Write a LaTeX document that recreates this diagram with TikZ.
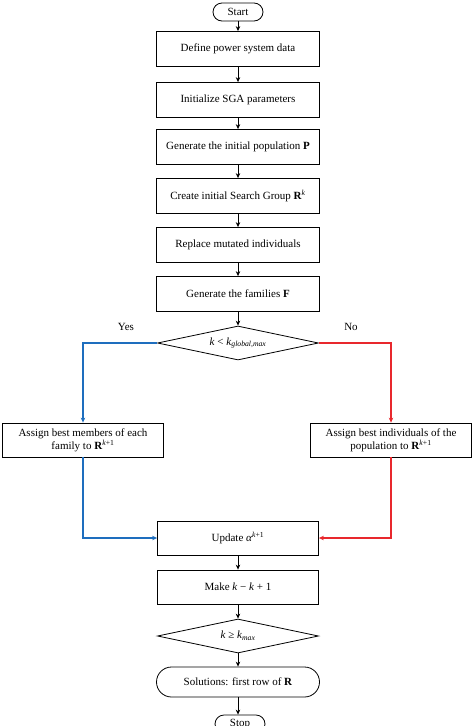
\documentclass[tikz,border=0pt]{standalone}
\usepackage{fontspec}
\setmainfont{Liberation Serif}
\usetikzlibrary{shapes.geometric,arrows.meta}
\definecolor{myblue}{RGB}{30,110,190}
\definecolor{myred}{RGB}{232,40,45}
\begin{document}
\begin{tikzpicture}[x=1pt,y=-1pt,
  font=\fontsize{11}{13}\selectfont,
  box/.style={draw,line width=0.8pt,minimum width=163pt,minimum height=35pt,inner sep=1pt,align=center},
  sidebox/.style={draw,line width=0.8pt,minimum width=161pt,minimum height=34pt,inner sep=1pt,align=center},
  term/.style={draw,line width=0.8pt,rounded corners=9pt,minimum width=50pt,minimum height=18pt,inner sep=1pt},
  bigterm/.style={draw,line width=0.8pt,rounded corners=15pt,minimum width=163pt,minimum height=30pt,inner sep=1pt},
  dec/.style={draw,line width=0.8pt,diamond,aspect=4.7,minimum width=161pt,minimum height=34pt,inner sep=0pt},
  arr/.style={line width=0.8pt,-{Stealth[length=5pt,width=4.5pt]}},
  barr/.style={line width=1.2pt,myblue,-{Stealth[length=5pt,width=4.5pt]}},
  rarr/.style={line width=1.2pt,myred,-{Stealth[length=5pt,width=4.5pt]}}]
\useasboundingbox (0,0) rectangle (474,726);
\node[term] (start) at (238,12) {Start};
\node[box] (def) at (238,49) {Define power system data};
\node[box] (init) at (238,100) {Initialize SGA parameters};
\node[box] (genp) at (238,147) {Generate the initial population \textbf{P}};
\node[box] (crr) at (238,196) {Create initial Search Group \textbf{R}\textsuperscript{\textit{k}}};
\node[box] (rep) at (238,245) {Replace mutated individuals};
\node[box] (genf) at (238,294) {Generate the families \textbf{F}};
\node[dec] (d1) at (238,343) {\textit{k} {<} \textit{k}\textsubscript{\textit{global,max}}};
\node (yes) at (126,327) {Yes};
\node (no) at (351,327) {No};
\node[sidebox] (lb) at (83,440) {Assign best members of each\\family to \textbf{R}\textsuperscript{\textit{k}+1}};
\node[sidebox] (rb) at (391,440) {Assign best individuals of the\\population to \textbf{R}\textsuperscript{\textit{k}+1}};
\node[sidebox] (upd) at (238,538) {Update \textit{α}\textsuperscript{\textit{k}+1}};
\node[sidebox] (make) at (238,587) {Make \textit{k} − \textit{k} + 1};
\node[dec] (d2) at (238,636) {\textit{k} ≥ \textit{k}\textsubscript{\textit{max}}};
\node[bigterm] (sol) at (238,682) {Solutions: first row of \textbf{R}};
\node[term] (stop) at (240,724) {Stop};
\draw[arr] (start) -- (def);
\draw[arr] (def) -- (init);
\draw[arr] (init) -- (genp);
\draw[arr] (genp) -- (crr);
\draw[arr] (crr) -- (rep);
\draw[arr] (rep) -- (genf);
\draw[arr] (genf) -- (d1);
\draw[barr] (d1.west) -| (lb.north);
\draw[rarr] (d1.east) -| (rb.north);
\draw[barr] (lb.south) |- (upd.west);
\draw[rarr] (rb.south) |- (upd.east);
\draw[arr] (upd) -- (make);
\draw[arr] (make) -- (d2);
\draw[arr] (d2) -- (sol);
\draw[arr] (sol) -- (sol.south |- stop.north);
\end{tikzpicture}
\end{document}
